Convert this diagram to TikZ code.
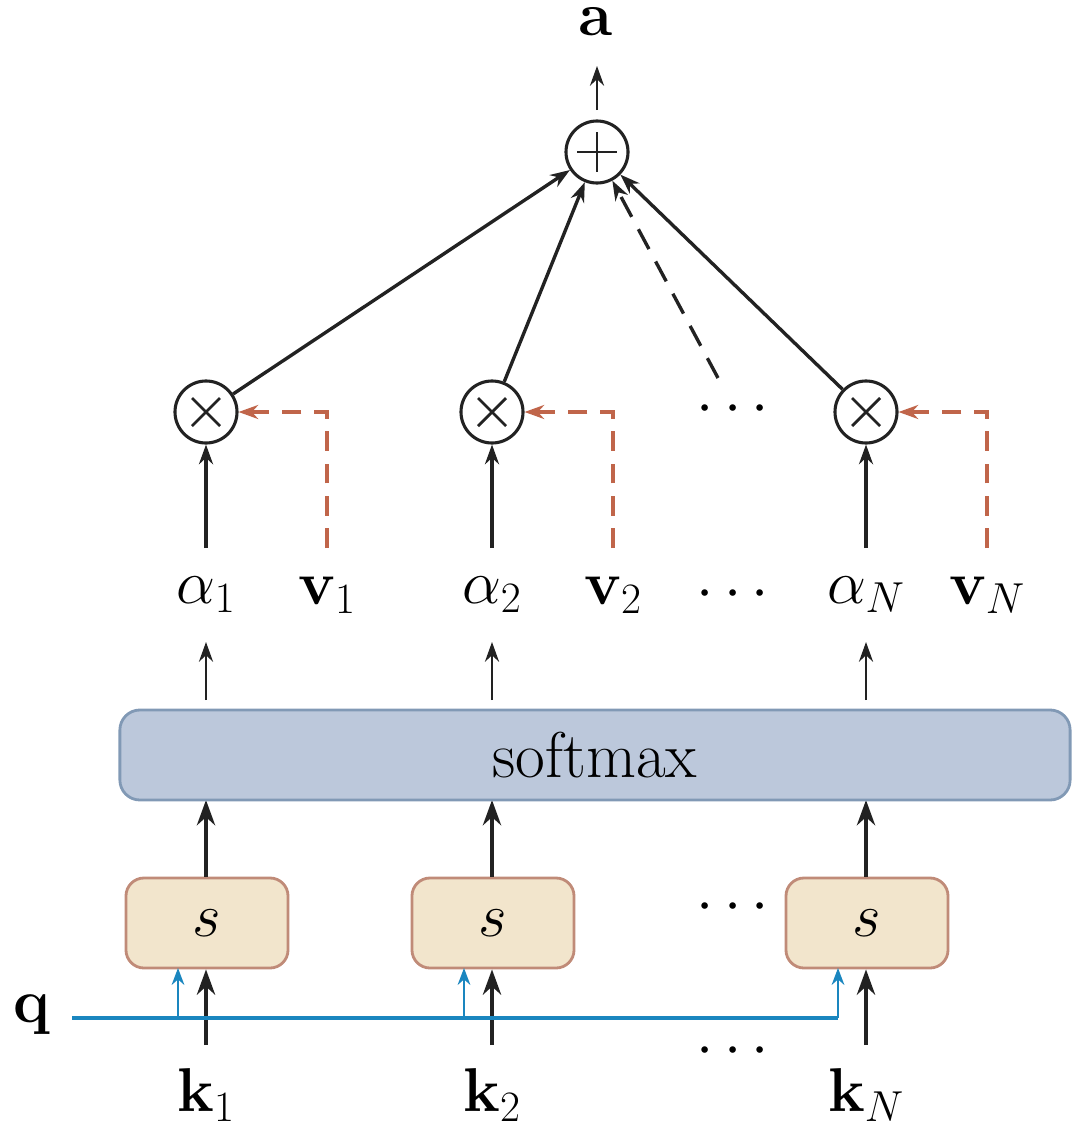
\documentclass[tikz,border=0pt]{standalone}
\usepackage{fix-cm}
\usepackage{amsmath}
\usetikzlibrary{arrows.meta}
\definecolor{sfill}{HTML}{F2E5CC}\definecolor{sdraw}{HTML}{C08B78}
\definecolor{bfill}{HTML}{BCC8DB}\definecolor{bdraw}{HTML}{8199B5}
\definecolor{qblue}{HTML}{1A86BF}\definecolor{vred}{HTML}{C0654A}
\definecolor{dk}{HTML}{222222}
\begin{document}
\begin{tikzpicture}[x=0.025cm,y=-0.025cm,
 lbl/.style={font=\fontsize{44}{50}\selectfont,inner sep=0},
 op/.style={circle,draw=dk,line width=2.2pt,minimum size=1.55cm,inner sep=0},
 sbox/.style={draw=sdraw,fill=sfill,line width=2pt,rounded corners=0.45cm,minimum width=4.05cm,minimum height=2.25cm,font=\fontsize{44}{50}\selectfont},
 ar/.style={-{Stealth[length=14pt,width=10pt]},line width=1.8pt,draw=dk},
 thick ar/.style={-{Stealth[length=18pt,width=13pt]},line width=2.6pt,draw=dk},
 red ar/.style={-{Stealth[length=14pt,width=10pt]},line width=2.2pt,draw=vred,dash pattern=on 14pt off 9pt},
 blue ar/.style={-{Stealth[length=12pt,width=9pt]},line width=1.8pt,draw=qblue}]
\useasboundingbox (0,0) rectangle (1080,1125);
\node[lbl] (a) at (595,22) {$\mathbf{a}$};
\coordinate (atail) at (597,110);
\draw[ar] (atail) -- (597,66);
\node[op] (plus) at (597,152) {};
\draw[line width=2pt,dk] (plus.center)++(0,-20) -- ++(0,40) (plus.center)++(-20,0) -- ++(40,0);
\foreach \n/\x in {1/206,2/492,3/866}{
  \node[op] (m\n) at (\x,412) {};
  \draw[line width=2pt,dk] (m\n.center)++(-14,-14) -- ++(28,28) (m\n.center)++(-14,14) -- ++(28,-28);
  \node[sbox] (s\n) at (\x+1,923) {$s$};
  \draw[ar] (\x,700) -- (\x,642);
  \draw[thick ar] (s\n.north -| \x,0) -- (\x,800);
  \draw[thick ar] (\x,1045) -- (s\n.south -| \x,0);
  \draw[ar,line width=2.4pt] (\x,548) -- (m\n);
}
\node[lbl] (al1) at (206,595) {$\alpha_1$};
\node[lbl] (al2) at (492,595) {$\alpha_2$};
\node[lbl] (al3) at (866,595) {$\alpha_N$};
\node[lbl] (v1) at (327,595) {$\mathbf{v}_1$};
\node[lbl] (v2) at (613,595) {$\mathbf{v}_2$};
\node[lbl] (v3) at (987,595) {$\mathbf{v}_N$};
\node[lbl] (k1) at (206,1095) {$\mathbf{k}_1$};
\node[lbl] (k2) at (492,1095) {$\mathbf{k}_2$};
\node[lbl] (k3) at (866,1095) {$\mathbf{k}_N$};
\node[lbl] (q) at (32,1015) {$\mathbf{q}$};
\node[lbl] (d1) at (738,595) {$\cdots$};
\node[lbl] (d2) at (738,410) {$\cdots$};
\node[lbl] (d3) at (738,908) {$\cdots$};
\node[lbl] (d4) at (738,1052) {$\cdots$};
\foreach \n/\x in {1/327,2/613,3/987}
  \draw[red ar] (\x,548) -- (\x,412) -- (m\n.east);
\node[draw=bdraw,fill=bfill,line width=2pt,rounded corners=0.5cm,minimum width=23.75cm,minimum height=2.25cm,font=\fontsize{46}{52}\selectfont] (soft) at (595,755) {softmax};
\draw[ar,line width=2.4pt] (m1) -- (plus);
\draw[ar,line width=2.4pt] (m2) -- (plus);
\draw[ar,line width=2.4pt] (m3) -- (plus);
\coordinate (dt) at (718,378);
\draw[ar,line width=2.4pt,dash pattern=on 16pt off 10pt] (dt) -- (plus);
\coordinate (qe) at (838,1018);
\draw[line width=2.2pt,qblue] (72,1018) -- (qe);
\foreach \x in {178,464,838}
  \draw[blue ar] (\x,1018) -- (\x,968);
\end{tikzpicture}
\end{document}
